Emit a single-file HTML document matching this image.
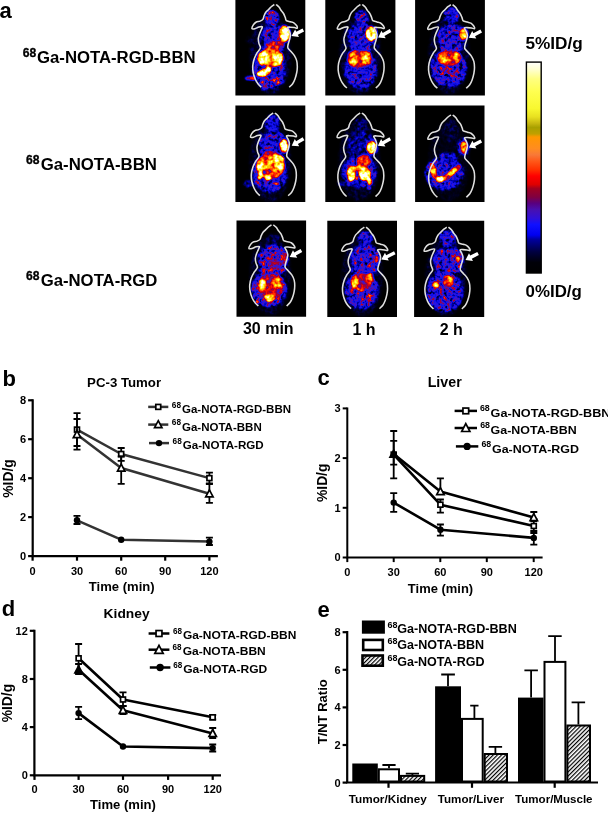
<!DOCTYPE html><html><head><meta charset="utf-8"><title>Figure</title><style>html,body{margin:0;padding:0;background:#fff;width:608px;height:813px;overflow:hidden}svg{display:block;font-family:"Liberation Sans",Arial,Helvetica,sans-serif;font-weight:bold}text{fill:#000}</style></head><body>
<svg width="608" height="813" viewBox="0 0 608 813">
<defs>
<filter id="cmap" x="0" y="0" width="1" height="1" color-interpolation-filters="sRGB"><feComponentTransfer><feFuncR type="table" tableValues="0.000 0.000 0.000 0.000 0.000 0.000 0.000 0.000 0.000 0.000 0.000 0.000 0.008 0.024 0.041 0.057 0.078 0.103 0.127 0.152 0.203 0.260 0.317 0.374 0.433 0.492 0.551 0.624 0.703 0.781 0.843 0.891 0.939 0.987 1.000 1.000 1.000 1.000 1.000 1.000 1.000 1.000 1.000 1.000 1.000 1.000 1.000 1.000 1.000 1.000 1.000 1.000 1.000 1.000 1.000 1.000 1.000 1.000 1.000 1.000 1.000 1.000 1.000 1.000 1.000"/><feFuncG type="table" tableValues="0.000 0.000 0.000 0.000 0.000 0.000 0.000 0.000 0.000 0.000 0.000 0.000 0.008 0.024 0.041 0.057 0.068 0.076 0.084 0.092 0.088 0.079 0.071 0.063 0.044 0.024 0.005 0.000 0.000 0.000 0.009 0.025 0.042 0.058 0.110 0.175 0.241 0.306 0.368 0.429 0.490 0.551 0.604 0.657 0.710 0.762 0.807 0.852 0.897 0.932 0.952 0.971 0.991 1.000 1.000 1.000 1.000 1.000 1.000 1.000 1.000 1.000 1.000 1.000 1.000"/><feFuncB type="table" tableValues="0.000 0.025 0.049 0.074 0.106 0.179 0.253 0.326 0.403 0.484 0.566 0.648 0.722 0.787 0.852 0.918 0.931 0.914 0.898 0.882 0.826 0.761 0.695 0.630 0.515 0.397 0.279 0.206 0.147 0.089 0.054 0.037 0.021 0.005 0.000 0.000 0.000 0.000 0.000 0.000 0.000 0.000 0.000 0.000 0.000 0.003 0.020 0.036 0.052 0.080 0.129 0.178 0.227 0.289 0.363 0.436 0.510 0.583 0.657 0.730 0.804 0.877 0.930 0.965 1.000"/><feFuncA type="linear" slope="0" intercept="1"/></feComponentTransfer></filter><filter id="ns0" x="0" y="0" width="1" height="1" color-interpolation-filters="sRGB"><feGaussianBlur in="SourceGraphic" stdDeviation="0.8" result="b"/><feTurbulence type="fractalNoise" baseFrequency="0.27" numOctaves="2" seed="3" result="n"/><feColorMatrix in="n" type="matrix" values="1 0 0 0 0  1 0 0 0 0  1 0 0 0 0  0 0 0 0 1" result="g"/><feComposite in="b" in2="g" operator="arithmetic" k1="2.7" k2="-0.35" k3="0" k4="0" result="m"/><feComponentTransfer in="m"><feFuncA type="linear" slope="0" intercept="1"/></feComponentTransfer></filter><filter id="nm0" x="0" y="0" width="1" height="1" color-interpolation-filters="sRGB"><feGaussianBlur in="SourceGraphic" stdDeviation="0.9" result="b"/><feTurbulence type="fractalNoise" baseFrequency="0.25" numOctaves="2" seed="53" result="n"/><feColorMatrix in="n" type="matrix" values="1 0 0 0 0  1 0 0 0 0  1 0 0 0 0  0 0 0 0 1" result="g"/><feComposite in="b" in2="g" operator="arithmetic" k1="1.1" k2="0.45" k3="0" k4="0" result="m"/><feComponentTransfer in="m"><feFuncA type="linear" slope="0" intercept="1"/></feComponentTransfer></filter><filter id="ns1" x="0" y="0" width="1" height="1" color-interpolation-filters="sRGB"><feGaussianBlur in="SourceGraphic" stdDeviation="0.8" result="b"/><feTurbulence type="fractalNoise" baseFrequency="0.27" numOctaves="2" seed="7" result="n"/><feColorMatrix in="n" type="matrix" values="1 0 0 0 0  1 0 0 0 0  1 0 0 0 0  0 0 0 0 1" result="g"/><feComposite in="b" in2="g" operator="arithmetic" k1="2.7" k2="-0.35" k3="0" k4="0" result="m"/><feComponentTransfer in="m"><feFuncA type="linear" slope="0" intercept="1"/></feComponentTransfer></filter><filter id="nm1" x="0" y="0" width="1" height="1" color-interpolation-filters="sRGB"><feGaussianBlur in="SourceGraphic" stdDeviation="0.9" result="b"/><feTurbulence type="fractalNoise" baseFrequency="0.25" numOctaves="2" seed="57" result="n"/><feColorMatrix in="n" type="matrix" values="1 0 0 0 0  1 0 0 0 0  1 0 0 0 0  0 0 0 0 1" result="g"/><feComposite in="b" in2="g" operator="arithmetic" k1="1.1" k2="0.45" k3="0" k4="0" result="m"/><feComponentTransfer in="m"><feFuncA type="linear" slope="0" intercept="1"/></feComponentTransfer></filter><filter id="ns2" x="0" y="0" width="1" height="1" color-interpolation-filters="sRGB"><feGaussianBlur in="SourceGraphic" stdDeviation="0.8" result="b"/><feTurbulence type="fractalNoise" baseFrequency="0.27" numOctaves="2" seed="11" result="n"/><feColorMatrix in="n" type="matrix" values="1 0 0 0 0  1 0 0 0 0  1 0 0 0 0  0 0 0 0 1" result="g"/><feComposite in="b" in2="g" operator="arithmetic" k1="2.7" k2="-0.35" k3="0" k4="0" result="m"/><feComponentTransfer in="m"><feFuncA type="linear" slope="0" intercept="1"/></feComponentTransfer></filter><filter id="nm2" x="0" y="0" width="1" height="1" color-interpolation-filters="sRGB"><feGaussianBlur in="SourceGraphic" stdDeviation="0.9" result="b"/><feTurbulence type="fractalNoise" baseFrequency="0.25" numOctaves="2" seed="61" result="n"/><feColorMatrix in="n" type="matrix" values="1 0 0 0 0  1 0 0 0 0  1 0 0 0 0  0 0 0 0 1" result="g"/><feComposite in="b" in2="g" operator="arithmetic" k1="1.1" k2="0.45" k3="0" k4="0" result="m"/><feComponentTransfer in="m"><feFuncA type="linear" slope="0" intercept="1"/></feComponentTransfer></filter><filter id="ns3" x="0" y="0" width="1" height="1" color-interpolation-filters="sRGB"><feGaussianBlur in="SourceGraphic" stdDeviation="0.8" result="b"/><feTurbulence type="fractalNoise" baseFrequency="0.27" numOctaves="2" seed="5" result="n"/><feColorMatrix in="n" type="matrix" values="1 0 0 0 0  1 0 0 0 0  1 0 0 0 0  0 0 0 0 1" result="g"/><feComposite in="b" in2="g" operator="arithmetic" k1="2.7" k2="-0.35" k3="0" k4="0" result="m"/><feComponentTransfer in="m"><feFuncA type="linear" slope="0" intercept="1"/></feComponentTransfer></filter><filter id="nm3" x="0" y="0" width="1" height="1" color-interpolation-filters="sRGB"><feGaussianBlur in="SourceGraphic" stdDeviation="0.9" result="b"/><feTurbulence type="fractalNoise" baseFrequency="0.25" numOctaves="2" seed="55" result="n"/><feColorMatrix in="n" type="matrix" values="1 0 0 0 0  1 0 0 0 0  1 0 0 0 0  0 0 0 0 1" result="g"/><feComposite in="b" in2="g" operator="arithmetic" k1="1.1" k2="0.45" k3="0" k4="0" result="m"/><feComponentTransfer in="m"><feFuncA type="linear" slope="0" intercept="1"/></feComponentTransfer></filter><filter id="ns4" x="0" y="0" width="1" height="1" color-interpolation-filters="sRGB"><feGaussianBlur in="SourceGraphic" stdDeviation="0.8" result="b"/><feTurbulence type="fractalNoise" baseFrequency="0.27" numOctaves="2" seed="9" result="n"/><feColorMatrix in="n" type="matrix" values="1 0 0 0 0  1 0 0 0 0  1 0 0 0 0  0 0 0 0 1" result="g"/><feComposite in="b" in2="g" operator="arithmetic" k1="2.7" k2="-0.35" k3="0" k4="0" result="m"/><feComponentTransfer in="m"><feFuncA type="linear" slope="0" intercept="1"/></feComponentTransfer></filter><filter id="nm4" x="0" y="0" width="1" height="1" color-interpolation-filters="sRGB"><feGaussianBlur in="SourceGraphic" stdDeviation="0.9" result="b"/><feTurbulence type="fractalNoise" baseFrequency="0.25" numOctaves="2" seed="59" result="n"/><feColorMatrix in="n" type="matrix" values="1 0 0 0 0  1 0 0 0 0  1 0 0 0 0  0 0 0 0 1" result="g"/><feComposite in="b" in2="g" operator="arithmetic" k1="1.1" k2="0.45" k3="0" k4="0" result="m"/><feComponentTransfer in="m"><feFuncA type="linear" slope="0" intercept="1"/></feComponentTransfer></filter><filter id="ns5" x="0" y="0" width="1" height="1" color-interpolation-filters="sRGB"><feGaussianBlur in="SourceGraphic" stdDeviation="0.8" result="b"/><feTurbulence type="fractalNoise" baseFrequency="0.27" numOctaves="2" seed="13" result="n"/><feColorMatrix in="n" type="matrix" values="1 0 0 0 0  1 0 0 0 0  1 0 0 0 0  0 0 0 0 1" result="g"/><feComposite in="b" in2="g" operator="arithmetic" k1="2.7" k2="-0.35" k3="0" k4="0" result="m"/><feComponentTransfer in="m"><feFuncA type="linear" slope="0" intercept="1"/></feComponentTransfer></filter><filter id="nm5" x="0" y="0" width="1" height="1" color-interpolation-filters="sRGB"><feGaussianBlur in="SourceGraphic" stdDeviation="0.9" result="b"/><feTurbulence type="fractalNoise" baseFrequency="0.25" numOctaves="2" seed="63" result="n"/><feColorMatrix in="n" type="matrix" values="1 0 0 0 0  1 0 0 0 0  1 0 0 0 0  0 0 0 0 1" result="g"/><feComposite in="b" in2="g" operator="arithmetic" k1="1.1" k2="0.45" k3="0" k4="0" result="m"/><feComponentTransfer in="m"><feFuncA type="linear" slope="0" intercept="1"/></feComponentTransfer></filter><filter id="ns6" x="0" y="0" width="1" height="1" color-interpolation-filters="sRGB"><feGaussianBlur in="SourceGraphic" stdDeviation="0.8" result="b"/><feTurbulence type="fractalNoise" baseFrequency="0.27" numOctaves="2" seed="17" result="n"/><feColorMatrix in="n" type="matrix" values="1 0 0 0 0  1 0 0 0 0  1 0 0 0 0  0 0 0 0 1" result="g"/><feComposite in="b" in2="g" operator="arithmetic" k1="2.7" k2="-0.35" k3="0" k4="0" result="m"/><feComponentTransfer in="m"><feFuncA type="linear" slope="0" intercept="1"/></feComponentTransfer></filter><filter id="nm6" x="0" y="0" width="1" height="1" color-interpolation-filters="sRGB"><feGaussianBlur in="SourceGraphic" stdDeviation="0.9" result="b"/><feTurbulence type="fractalNoise" baseFrequency="0.25" numOctaves="2" seed="67" result="n"/><feColorMatrix in="n" type="matrix" values="1 0 0 0 0  1 0 0 0 0  1 0 0 0 0  0 0 0 0 1" result="g"/><feComposite in="b" in2="g" operator="arithmetic" k1="1.1" k2="0.45" k3="0" k4="0" result="m"/><feComponentTransfer in="m"><feFuncA type="linear" slope="0" intercept="1"/></feComponentTransfer></filter><filter id="ns7" x="0" y="0" width="1" height="1" color-interpolation-filters="sRGB"><feGaussianBlur in="SourceGraphic" stdDeviation="0.8" result="b"/><feTurbulence type="fractalNoise" baseFrequency="0.27" numOctaves="2" seed="19" result="n"/><feColorMatrix in="n" type="matrix" values="1 0 0 0 0  1 0 0 0 0  1 0 0 0 0  0 0 0 0 1" result="g"/><feComposite in="b" in2="g" operator="arithmetic" k1="2.7" k2="-0.35" k3="0" k4="0" result="m"/><feComponentTransfer in="m"><feFuncA type="linear" slope="0" intercept="1"/></feComponentTransfer></filter><filter id="nm7" x="0" y="0" width="1" height="1" color-interpolation-filters="sRGB"><feGaussianBlur in="SourceGraphic" stdDeviation="0.9" result="b"/><feTurbulence type="fractalNoise" baseFrequency="0.25" numOctaves="2" seed="69" result="n"/><feColorMatrix in="n" type="matrix" values="1 0 0 0 0  1 0 0 0 0  1 0 0 0 0  0 0 0 0 1" result="g"/><feComposite in="b" in2="g" operator="arithmetic" k1="1.1" k2="0.45" k3="0" k4="0" result="m"/><feComponentTransfer in="m"><feFuncA type="linear" slope="0" intercept="1"/></feComponentTransfer></filter><filter id="ns8" x="0" y="0" width="1" height="1" color-interpolation-filters="sRGB"><feGaussianBlur in="SourceGraphic" stdDeviation="0.8" result="b"/><feTurbulence type="fractalNoise" baseFrequency="0.27" numOctaves="2" seed="23" result="n"/><feColorMatrix in="n" type="matrix" values="1 0 0 0 0  1 0 0 0 0  1 0 0 0 0  0 0 0 0 1" result="g"/><feComposite in="b" in2="g" operator="arithmetic" k1="2.7" k2="-0.35" k3="0" k4="0" result="m"/><feComponentTransfer in="m"><feFuncA type="linear" slope="0" intercept="1"/></feComponentTransfer></filter><filter id="nm8" x="0" y="0" width="1" height="1" color-interpolation-filters="sRGB"><feGaussianBlur in="SourceGraphic" stdDeviation="0.9" result="b"/><feTurbulence type="fractalNoise" baseFrequency="0.25" numOctaves="2" seed="73" result="n"/><feColorMatrix in="n" type="matrix" values="1 0 0 0 0  1 0 0 0 0  1 0 0 0 0  0 0 0 0 1" result="g"/><feComposite in="b" in2="g" operator="arithmetic" k1="1.1" k2="0.45" k3="0" k4="0" result="m"/><feComponentTransfer in="m"><feFuncA type="linear" slope="0" intercept="1"/></feComponentTransfer></filter>
<linearGradient id="cbar" x1="0" y1="0" x2="0" y2="1"><stop offset="0.000" stop-color="#ffffff"/><stop offset="0.040" stop-color="#ffffc8"/><stop offset="0.080" stop-color="#ffff80"/><stop offset="0.140" stop-color="#ffff50"/><stop offset="0.220" stop-color="#f8f830"/><stop offset="0.260" stop-color="#e8e020"/><stop offset="0.290" stop-color="#c8b810"/><stop offset="0.310" stop-color="#a8a000"/><stop offset="0.340" stop-color="#c0a000"/><stop offset="0.355" stop-color="#ff9800"/><stop offset="0.410" stop-color="#ff8c20"/><stop offset="0.440" stop-color="#f87838"/><stop offset="0.470" stop-color="#ff5818"/><stop offset="0.510" stop-color="#ff3000"/><stop offset="0.540" stop-color="#ff0000"/><stop offset="0.580" stop-color="#e00000"/><stop offset="0.600" stop-color="#a00020"/><stop offset="0.640" stop-color="#800040"/><stop offset="0.670" stop-color="#580080"/><stop offset="0.700" stop-color="#4810b0"/><stop offset="0.740" stop-color="#3010d8"/><stop offset="0.770" stop-color="#1010ff"/><stop offset="0.820" stop-color="#0000f0"/><stop offset="0.840" stop-color="#0000a0"/><stop offset="0.900" stop-color="#000040"/><stop offset="0.950" stop-color="#000008"/><stop offset="1.000" stop-color="#000000"/></linearGradient>
<pattern id="hatch" width="2.95" height="2.95" patternUnits="userSpaceOnUse" patternTransform="rotate(45)"><rect width="2.95" height="2.95" fill="#fff"/><rect width="1.2" height="2.95" fill="#000"/></pattern>
</defs>
<rect width="608" height="813" fill="#fff"/>
<text x="-0.6" y="18.0" font-size="22">a</text>
<text x="22.7" y="57.3" font-size="12" textLength="13.5" lengthAdjust="spacingAndGlyphs" stroke="#000" stroke-width="0.3">68</text><text x="37.0" y="62.9" font-size="16" textLength="158.6" lengthAdjust="spacingAndGlyphs">Ga-NOTA-RGD-BBN</text>
<text x="26.1" y="164.0" font-size="12" textLength="13.5" lengthAdjust="spacingAndGlyphs" stroke="#000" stroke-width="0.3">68</text><text x="40.7" y="169.6" font-size="16" textLength="116.3" lengthAdjust="spacingAndGlyphs">Ga-NOTA-BBN</text>
<text x="26.1" y="280.0" font-size="12" textLength="13.5" lengthAdjust="spacingAndGlyphs" stroke="#000" stroke-width="0.3">68</text><text x="40.7" y="285.6" font-size="16" textLength="116.7" lengthAdjust="spacingAndGlyphs">Ga-NOTA-RGD</text>
<text x="268.3" y="333.8" font-size="16" text-anchor="middle">30 min</text>
<text x="364.0" y="335.0" font-size="16" text-anchor="middle">1 h</text>
<text x="451.2" y="335.0" font-size="16" text-anchor="middle">2 h</text>
<text x="525.4" y="48.8" font-size="16" textLength="57.3" lengthAdjust="spacingAndGlyphs">5%ID/g</text>
<text x="525.6" y="297.2" font-size="16" textLength="56.2" lengthAdjust="spacingAndGlyphs">0%ID/g</text>
<rect x="526.4" y="62.1" width="14.8" height="210.9" fill="url(#cbar)" stroke="#000" stroke-width="1.4"/>
<svg x="235.4" y="0" width="69.9" height="95.4" viewBox="0 0 69.9 95.4" overflow="hidden">
<g filter="url(#cmap)">
<g filter="url(#ns0)"><rect x="-2" y="-2" width="73.9" height="99.4" fill="#000"/>
<ellipse cx="35" cy="55" rx="21" ry="40" fill="#141414"/>
<ellipse cx="36.5" cy="17.5" rx="7.5" ry="7.5" fill="#474747"/>
<ellipse cx="38" cy="37" rx="12.5" ry="12.5" fill="#424242"/>
<ellipse cx="34" cy="69" rx="16" ry="20" fill="#3f3f3f"/>
<ellipse cx="35" cy="16" rx="5" ry="6" fill="#5b5b5b"/>
<ellipse cx="40" cy="81" rx="8" ry="3.5" fill="#606060"/>
<ellipse cx="29.1" cy="82.5" rx="2" ry="2" fill="#727272"/>
<ellipse cx="28" cy="88.6" rx="1.5" ry="1.5" fill="#727272"/>
<ellipse cx="13" cy="40" rx="2" ry="3" fill="#191919"/>
<ellipse cx="37" cy="47.5" rx="10.625" ry="6" fill="#424242"/>
</g>
<g filter="url(#nm0)" style="mix-blend-mode:lighten"><rect x="-2" y="-2" width="73.9" height="99.4" fill="#000"/>
<ellipse cx="39.4" cy="45.2" rx="10" ry="5.3" fill="#777777"/>
<ellipse cx="35" cy="58" rx="13.5" ry="10" fill="#8e8e8e"/>
<ellipse cx="49.0" cy="33.8" rx="6.2" ry="8.8" fill="#999999"/>
<ellipse cx="49.2" cy="34.0" rx="5.0" ry="7.2" fill="#f9f9f9"/>
<ellipse cx="28.2" cy="58.6" rx="5.8" ry="7.5" fill="#d1d1d1"/>
<ellipse cx="41.5" cy="59.2" rx="6.2" ry="7" fill="#cccccc"/>
<ellipse cx="35.0" cy="59" rx="1.3" ry="5" fill="#7f7f7f"/>
<ellipse cx="28" cy="67.3" rx="2.2" ry="2" fill="#2d2d2d"/>
<ellipse cx="33" cy="68.5" rx="2.5" ry="2.5" fill="#cccccc"/>
<ellipse cx="28.5" cy="72.7" rx="7.8" ry="3.8" fill="#f2f2f2" transform="rotate(-20 28.5 72.7)"/>
<ellipse cx="15.5" cy="78.2" rx="5.5" ry="1.9" fill="#9e9e9e"/>
<ellipse cx="29" cy="57.5" rx="4" ry="5" fill="#f2f2f2"/>
<ellipse cx="42" cy="59.5" rx="4" ry="5" fill="#eaeaea"/>
</g></g>
<path d="M38.93 4.50C38.46 4.83 37.07 5.66 36.11 6.48C35.16 7.31 34.16 8.48 33.20 9.45C32.25 10.42 31.15 11.27 30.39 12.32C29.63 13.38 29.13 14.61 28.64 15.79C28.16 16.96 28.14 18.46 27.48 19.35C26.82 20.24 25.82 20.65 24.67 21.13C23.52 21.61 21.74 21.54 20.59 22.22C19.45 22.90 18.44 24.12 17.78 25.19C17.12 26.26 16.33 28.08 16.62 28.66C16.91 29.23 18.38 28.94 19.53 28.66C20.67 28.38 22.28 27.30 23.50 26.97C24.73 26.64 26.51 26.20 26.90 26.68C27.29 27.15 26.30 28.62 25.83 29.84C25.36 31.07 24.57 32.53 24.09 34.00C23.60 35.47 23.02 37.10 22.92 38.66C22.82 40.21 23.16 41.76 23.50 43.31C23.84 44.86 25.25 46.39 24.96 47.96C24.67 49.53 22.76 50.95 21.76 52.71C20.76 54.48 19.67 56.41 18.94 58.55C18.22 60.70 17.59 63.26 17.39 65.58C17.20 67.91 17.34 70.19 17.78 72.51C18.22 74.84 19.16 77.58 20.01 79.54C20.87 81.51 21.95 83.02 22.92 84.29C23.89 85.56 25.35 86.69 25.83 87.17" fill="none" stroke="#e0e0e0" stroke-width="1.55" stroke-linejoin="round"/>
<path d="M40.67 4.50C41.16 4.93 42.73 6.07 43.58 7.07C44.44 8.08 45.05 9.47 45.81 10.54C46.57 11.61 47.46 12.34 48.14 13.51C48.82 14.68 49.42 16.40 49.89 17.57C50.36 18.74 50.10 19.84 50.95 20.54C51.81 21.23 53.78 21.35 55.03 21.73C56.27 22.11 57.37 22.14 58.42 22.82C59.47 23.49 60.75 24.89 61.33 25.79C61.92 26.68 62.30 27.86 61.92 28.16C61.53 28.46 60.15 27.73 59.01 27.57C57.86 27.40 56.18 27.17 55.03 27.17C53.88 27.17 52.31 26.92 52.12 27.57C51.92 28.21 53.38 29.78 53.86 31.03C54.35 32.29 55.00 33.62 55.03 35.09C55.06 36.56 54.45 38.28 54.06 39.84C53.67 41.41 52.96 43.14 52.70 44.50C52.44 45.85 52.02 46.79 52.51 47.96C52.99 49.13 54.53 50.25 55.61 51.52C56.69 52.80 58.05 54.03 59.01 55.58C59.96 57.14 60.85 58.98 61.33 60.83C61.82 62.68 61.92 64.72 61.92 66.67C61.92 68.62 61.72 70.47 61.33 72.51C60.95 74.56 60.27 77.08 59.59 78.95C58.91 80.81 58.21 82.33 57.26 83.70C56.31 85.07 54.43 86.59 53.86 87.17" fill="none" stroke="#e0e0e0" stroke-width="1.55" stroke-linejoin="round"/>
<path d="M56.10 36.00L59.72 29.38L60.89 31.71L67.14 28.58L68.66 31.62L62.41 34.75L63.57 37.07Z" fill="#fff"/>
</svg>
<svg x="325.3" y="0" width="70.1" height="95.4" viewBox="0 0 70.1 95.4" overflow="hidden">
<g filter="url(#cmap)">
<g filter="url(#ns1)"><rect x="-2" y="-2" width="74.1" height="99.4" fill="#000"/>
<ellipse cx="35" cy="55" rx="21" ry="40" fill="#141414"/>
<ellipse cx="36.3" cy="17" rx="7" ry="7" fill="#424242"/>
<ellipse cx="36.3" cy="37" rx="13.5" ry="13.5" fill="#3f3f3f"/>
<ellipse cx="35.7" cy="69.4" rx="16" ry="19" fill="#3d3d3d"/>
<ellipse cx="37.5" cy="14" rx="2.5" ry="3" fill="#565656"/>
<ellipse cx="30" cy="75.5" rx="3.5" ry="1.2" fill="#666666"/>
<ellipse cx="35.3" cy="48.5" rx="11.475" ry="6" fill="#3f3f3f"/>
</g>
<g filter="url(#nm1)" style="mix-blend-mode:lighten"><rect x="-2" y="-2" width="74.1" height="99.4" fill="#000"/>
<ellipse cx="46.0" cy="34.2" rx="6.2" ry="8.3" fill="#8c8c8c"/>
<ellipse cx="46.0" cy="34.2" rx="4.8" ry="6.6" fill="#f9f9f9"/>
<ellipse cx="34.3" cy="58.8" rx="12.5" ry="9.5" fill="#777777"/>
<ellipse cx="28.2" cy="58.8" rx="6.5" ry="9.2" fill="#7f7f7f"/>
<ellipse cx="40.4" cy="58.6" rx="6.8" ry="9" fill="#7f7f7f"/>
<ellipse cx="28.0" cy="59.5" rx="3.8" ry="6.2" fill="#b2b2b2"/>
<ellipse cx="40.6" cy="59.0" rx="4.0" ry="6.2" fill="#b2b2b2"/>
<ellipse cx="27.5" cy="60" rx="1.6" ry="2.5" fill="#cccccc"/>
<ellipse cx="40.8" cy="58.5" rx="1.6" ry="3" fill="#cccccc"/>
</g></g>
<path d="M35.10 4.50C34.62 4.83 33.18 5.67 32.20 6.50C31.22 7.33 30.18 8.52 29.20 9.50C28.22 10.48 27.08 11.33 26.30 12.40C25.52 13.47 25.00 14.72 24.50 15.90C24.00 17.08 23.98 18.60 23.30 19.50C22.62 20.40 21.58 20.82 20.40 21.30C19.22 21.78 17.38 21.72 16.20 22.40C15.02 23.08 13.98 24.32 13.30 25.40C12.62 26.48 11.80 28.32 12.10 28.90C12.40 29.48 13.92 29.18 15.10 28.90C16.28 28.62 17.93 27.53 19.20 27.20C20.47 26.87 22.30 26.42 22.70 26.90C23.10 27.38 22.08 28.87 21.60 30.10C21.12 31.33 20.30 32.82 19.80 34.30C19.30 35.78 18.70 37.43 18.60 39.00C18.50 40.57 18.85 42.13 19.20 43.70C19.55 45.27 21.00 46.82 20.70 48.40C20.40 49.98 18.43 51.42 17.40 53.20C16.37 54.98 15.25 56.93 14.50 59.10C13.75 61.27 13.10 63.85 12.90 66.20C12.70 68.55 12.85 70.85 13.30 73.20C13.75 75.55 14.72 78.32 15.60 80.30C16.48 82.28 17.60 83.82 18.60 85.10C19.60 86.38 21.10 87.52 21.60 88.00" fill="none" stroke="#e0e0e0" stroke-width="1.55" stroke-linejoin="round"/>
<path d="M36.90 4.50C37.40 4.93 39.02 6.08 39.90 7.10C40.78 8.12 41.42 9.52 42.20 10.60C42.98 11.68 43.90 12.42 44.60 13.60C45.30 14.78 45.92 16.52 46.40 17.70C46.88 18.88 46.62 20.00 47.50 20.70C48.38 21.40 50.42 21.52 51.70 21.90C52.98 22.28 54.12 22.32 55.20 23.00C56.28 23.68 57.60 25.10 58.20 26.00C58.80 26.90 59.20 28.10 58.80 28.40C58.40 28.70 56.98 27.97 55.80 27.80C54.62 27.63 52.88 27.40 51.70 27.40C50.52 27.40 48.90 27.15 48.70 27.80C48.50 28.45 50.00 30.03 50.50 31.30C51.00 32.57 51.67 33.92 51.70 35.40C51.73 36.88 51.10 38.62 50.70 40.20C50.30 41.78 49.57 43.53 49.30 44.90C49.03 46.27 48.60 47.22 49.10 48.40C49.60 49.58 51.18 50.72 52.30 52.00C53.42 53.28 54.82 54.53 55.80 56.10C56.78 57.67 57.70 59.53 58.20 61.40C58.70 63.27 58.80 65.33 58.80 67.30C58.80 69.27 58.60 71.13 58.20 73.20C57.80 75.27 57.10 77.82 56.40 79.70C55.70 81.58 54.98 83.12 54.00 84.50C53.02 85.88 51.08 87.42 50.50 88.00" fill="none" stroke="#e0e0e0" stroke-width="1.55" stroke-linejoin="round"/>
<path d="M52.90 37.60L56.14 30.79L57.44 33.04L64.46 29.02L66.14 31.98L59.13 35.99L60.42 38.25Z" fill="#fff"/>
</svg>
<svg x="415.1" y="0" width="69.8" height="95.4" viewBox="0 0 69.8 95.4" overflow="hidden">
<g filter="url(#cmap)">
<g filter="url(#ns2)"><rect x="-2" y="-2" width="73.8" height="99.4" fill="#000"/>
<ellipse cx="34" cy="55" rx="21" ry="40" fill="#111111"/>
<ellipse cx="36.5" cy="15" rx="8" ry="8" fill="#383838"/>
<ellipse cx="36.6" cy="36.6" rx="14" ry="13" fill="#3f3f3f"/>
<ellipse cx="33.6" cy="68.5" rx="18" ry="19" fill="#3f3f3f"/>
<ellipse cx="30.7" cy="71.5" rx="9" ry="5" fill="#5b5b5b"/>
<ellipse cx="40" cy="75" rx="5" ry="4" fill="#545454"/>
<ellipse cx="35.6" cy="47.6" rx="11.9" ry="6" fill="#3f3f3f"/>
</g>
<g filter="url(#nm2)" style="mix-blend-mode:lighten"><rect x="-2" y="-2" width="73.8" height="99.4" fill="#000"/>
<ellipse cx="34" cy="58" rx="13" ry="8.5" fill="#777777"/>
<ellipse cx="48.3" cy="34.3" rx="4.6" ry="7" fill="#7f7f7f"/>
<ellipse cx="48.3" cy="34.3" rx="3.3" ry="4.9" fill="#cccccc"/>
<ellipse cx="28.5" cy="59" rx="5.5" ry="5" fill="#999999"/>
<ellipse cx="29.5" cy="59.5" rx="2.6" ry="2.6" fill="#c6c6c6"/>
<ellipse cx="41.5" cy="57" rx="4.2" ry="4.8" fill="#999999"/>
<ellipse cx="40.5" cy="56" rx="1.8" ry="2.2" fill="#b7b7b7"/>
<ellipse cx="36" cy="60" rx="2" ry="2" fill="#999999"/>
</g></g>
<path d="M35.70 4.70C35.22 5.03 33.78 5.87 32.80 6.70C31.82 7.53 30.78 8.72 29.80 9.70C28.82 10.68 27.68 11.53 26.90 12.60C26.12 13.67 25.60 14.92 25.10 16.10C24.60 17.28 24.58 18.80 23.90 19.70C23.22 20.60 22.18 21.02 21.00 21.50C19.82 21.98 17.98 21.92 16.80 22.60C15.62 23.28 14.58 24.52 13.90 25.60C13.22 26.68 12.40 28.52 12.70 29.10C13.00 29.68 14.52 29.38 15.70 29.10C16.88 28.82 18.53 27.73 19.80 27.40C21.07 27.07 22.90 26.62 23.30 27.10C23.70 27.58 22.68 29.07 22.20 30.30C21.72 31.53 20.90 33.02 20.40 34.50C19.90 35.98 19.30 37.63 19.20 39.20C19.10 40.77 19.45 42.33 19.80 43.90C20.15 45.47 21.60 47.02 21.30 48.60C21.00 50.18 19.03 51.62 18.00 53.40C16.97 55.18 15.85 57.13 15.10 59.30C14.35 61.47 13.70 64.05 13.50 66.40C13.30 68.75 13.45 71.05 13.90 73.40C14.35 75.75 15.32 78.52 16.20 80.50C17.08 82.48 18.20 84.02 19.20 85.30C20.20 86.58 21.70 87.72 22.20 88.20" fill="none" stroke="#e0e0e0" stroke-width="1.55" stroke-linejoin="round"/>
<path d="M37.50 4.70C38.00 5.13 39.62 6.28 40.50 7.30C41.38 8.32 42.02 9.72 42.80 10.80C43.58 11.88 44.50 12.62 45.20 13.80C45.90 14.98 46.52 16.72 47.00 17.90C47.48 19.08 47.22 20.20 48.10 20.90C48.98 21.60 51.02 21.72 52.30 22.10C53.58 22.48 54.72 22.52 55.80 23.20C56.88 23.88 58.20 25.30 58.80 26.20C59.40 27.10 59.80 28.30 59.40 28.60C59.00 28.90 57.58 28.17 56.40 28.00C55.22 27.83 53.48 27.60 52.30 27.60C51.12 27.60 49.50 27.35 49.30 28.00C49.10 28.65 50.60 30.23 51.10 31.50C51.60 32.77 52.27 34.12 52.30 35.60C52.33 37.08 51.70 38.82 51.30 40.40C50.90 41.98 50.17 43.73 49.90 45.10C49.63 46.47 49.20 47.42 49.70 48.60C50.20 49.78 51.78 50.92 52.90 52.20C54.02 53.48 55.42 54.73 56.40 56.30C57.38 57.87 58.30 59.73 58.80 61.60C59.30 63.47 59.40 65.53 59.40 67.50C59.40 69.47 59.20 71.33 58.80 73.40C58.40 75.47 57.70 78.02 57.00 79.90C56.30 81.78 55.58 83.32 54.60 84.70C53.62 86.08 51.68 87.62 51.10 88.20" fill="none" stroke="#e0e0e0" stroke-width="1.55" stroke-linejoin="round"/>
<path d="M53.70 37.80L57.07 31.05L58.32 33.33L65.28 29.51L66.92 32.49L59.95 36.31L61.20 38.59Z" fill="#fff"/>
</svg>
<svg x="235.4" y="105.5" width="69.9" height="96.4" viewBox="0 0 69.9 96.4" overflow="hidden">
<g filter="url(#cmap)">
<g filter="url(#ns3)"><rect x="-2" y="-2" width="73.9" height="100.4" fill="#000"/>
<ellipse cx="35" cy="57" rx="21" ry="40" fill="#111111"/>
<ellipse cx="36.8" cy="17.3" rx="7.7" ry="8.3" fill="#3a3a3a"/>
<ellipse cx="38" cy="37.3" rx="14.8" ry="11.8" fill="#3d3d3d"/>
<ellipse cx="34.5" cy="68" rx="17" ry="19" fill="#3d3d3d"/>
<ellipse cx="13" cy="78.5" rx="5" ry="4" fill="#282828"/>
<ellipse cx="20.9" cy="76.3" rx="2" ry="2" fill="#8c8c8c"/>
<ellipse cx="37" cy="47.099999999999994" rx="12.58" ry="6" fill="#3d3d3d"/>
</g>
<g filter="url(#nm3)" style="mix-blend-mode:lighten"><rect x="-2" y="-2" width="73.9" height="100.4" fill="#000"/>
<ellipse cx="35" cy="61" rx="15" ry="13" fill="#8c8c8c"/>
<ellipse cx="35" cy="48" rx="8" ry="3.5" fill="#727272"/>
<ellipse cx="48.6" cy="40.5" rx="5.0" ry="7.2" fill="#999999"/>
<ellipse cx="48.6" cy="40.5" rx="3.9" ry="6.0" fill="#f9f9f9"/>
<ellipse cx="41" cy="53.8" rx="8.3" ry="4.7" fill="#d1d1d1"/>
<ellipse cx="25.8" cy="62.7" rx="4.4" ry="7.7" fill="#e0e0e0"/>
<ellipse cx="43.9" cy="60.9" rx="5.3" ry="4.7" fill="#cccccc"/>
<ellipse cx="33.5" cy="60" rx="3.5" ry="4" fill="#9e9e9e"/>
<ellipse cx="28.6" cy="66.3" rx="2.4" ry="2.4" fill="#333333"/>
<ellipse cx="24.2" cy="71.9" rx="2.4" ry="2.4" fill="#f7f7f7"/>
<ellipse cx="32.1" cy="72.5" rx="3" ry="2.6" fill="#f7f7f7"/>
<ellipse cx="41.5" cy="78" rx="3" ry="2.5" fill="#727272"/>
<ellipse cx="41.5" cy="78" rx="1.8" ry="1.8" fill="#bfbfbf"/>
</g></g>
<path d="M37.72 7.50C37.24 7.83 35.84 8.66 34.88 9.48C33.91 10.30 32.90 11.48 31.94 12.45C30.97 13.42 29.86 14.27 29.09 15.32C28.33 16.38 27.82 17.61 27.33 18.79C26.84 19.96 26.82 21.46 26.15 22.35C25.48 23.24 24.47 23.65 23.31 24.13C22.15 24.61 20.36 24.54 19.20 25.22C18.04 25.90 17.02 27.12 16.35 28.19C15.68 29.26 14.88 31.08 15.18 31.66C15.47 32.23 16.96 31.94 18.12 31.66C19.28 31.38 20.89 30.30 22.14 29.97C23.38 29.64 25.17 29.20 25.57 29.68C25.96 30.15 24.96 31.62 24.49 32.84C24.01 34.06 23.21 35.53 22.72 37.00C22.23 38.47 21.65 40.10 21.55 41.66C21.45 43.21 21.79 44.76 22.14 46.31C22.48 47.86 23.90 49.39 23.61 50.96C23.31 52.53 21.38 53.95 20.37 55.71C19.36 57.48 18.27 59.41 17.53 61.55C16.80 63.70 16.16 66.26 15.96 68.58C15.77 70.91 15.91 73.19 16.35 75.51C16.80 77.84 17.74 80.58 18.61 82.54C19.47 84.51 20.57 86.02 21.55 87.29C22.53 88.56 24.00 89.69 24.49 90.17" fill="none" stroke="#e0e0e0" stroke-width="1.55" stroke-linejoin="round"/>
<path d="M39.48 7.50C39.97 7.93 41.56 9.07 42.42 10.07C43.29 11.08 43.91 12.47 44.68 13.54C45.44 14.61 46.34 15.34 47.03 16.51C47.71 17.68 48.32 19.40 48.79 20.57C49.27 21.74 49.00 22.84 49.87 23.54C50.74 24.23 52.73 24.35 53.99 24.73C55.24 25.11 56.35 25.14 57.42 25.82C58.48 26.49 59.77 27.89 60.36 28.79C60.94 29.68 61.34 30.86 60.94 31.16C60.55 31.46 59.16 30.73 58.00 30.57C56.84 30.40 55.15 30.17 53.99 30.17C52.83 30.17 51.24 29.92 51.05 30.57C50.85 31.21 52.32 32.78 52.81 34.03C53.30 35.29 53.95 36.62 53.99 38.09C54.02 39.56 53.40 41.28 53.01 42.84C52.61 44.41 51.90 46.14 51.63 47.50C51.37 48.85 50.95 49.79 51.44 50.96C51.93 52.13 53.48 53.25 54.57 54.52C55.67 55.80 57.04 57.03 58.00 58.58C58.97 60.14 59.87 61.98 60.36 63.83C60.85 65.68 60.94 67.72 60.94 69.67C60.94 71.62 60.75 73.47 60.36 75.51C59.96 77.56 59.28 80.08 58.59 81.95C57.91 83.81 57.20 85.33 56.24 86.70C55.28 88.07 53.38 89.59 52.81 90.17" fill="none" stroke="#e0e0e0" stroke-width="1.55" stroke-linejoin="round"/>
<path d="M56.30 40.30L59.40 33.42L60.74 35.65L67.22 31.74L68.98 34.66L62.49 38.56L63.83 40.79Z" fill="#fff"/>
</svg>
<svg x="325.3" y="105.5" width="70.1" height="96.4" viewBox="0 0 70.1 96.4" overflow="hidden">
<g filter="url(#cmap)">
<g filter="url(#ns4)"><rect x="-2" y="-2" width="74.1" height="100.4" fill="#000"/>
<ellipse cx="34" cy="56" rx="21" ry="40" fill="#111111"/>
<ellipse cx="36" cy="19" rx="7.5" ry="7.5" fill="#1e1e1e"/>
<ellipse cx="35.7" cy="38" rx="13.5" ry="12" fill="#262626"/>
<ellipse cx="34" cy="66" rx="17.5" ry="16" fill="#3a3a3a"/>
<ellipse cx="16" cy="78" rx="4" ry="3" fill="#282828"/>
<ellipse cx="46" cy="42" rx="7" ry="9" fill="#383838"/>
<ellipse cx="31.5" cy="70" rx="2" ry="5" fill="#606060"/>
<ellipse cx="34.7" cy="48" rx="11.475" ry="6" fill="#262626"/>
</g>
<g filter="url(#nm4)" style="mix-blend-mode:lighten"><rect x="-2" y="-2" width="74.1" height="100.4" fill="#000"/>
<ellipse cx="38.7" cy="55.6" rx="8.3" ry="6.5" fill="#7f7f7f"/>
<ellipse cx="35.1" cy="53.8" rx="2" ry="2" fill="#9e9e9e"/>
<ellipse cx="39.9" cy="58.6" rx="2" ry="2" fill="#999999"/>
<ellipse cx="29.8" cy="62.7" rx="8.8" ry="3" fill="#999999"/>
<ellipse cx="46.2" cy="41.9" rx="5.4" ry="7.1" fill="#8c8c8c"/>
<ellipse cx="46.2" cy="41.9" rx="4.2" ry="5.9" fill="#f9f9f9"/>
<ellipse cx="39.3" cy="68.6" rx="6.5" ry="6.5" fill="#f2f2f2"/>
<ellipse cx="25.7" cy="69.2" rx="4.7" ry="7" fill="#d8d8d8"/>
<ellipse cx="44.6" cy="76.3" rx="2.4" ry="3.5" fill="#f2f2f2"/>
<ellipse cx="43.5" cy="82.5" rx="2.4" ry="1.8" fill="#7f7f7f"/>
<ellipse cx="23.3" cy="79" rx="2" ry="2" fill="#727272"/>
</g></g>
<path d="M34.80 7.50C34.32 7.83 32.88 8.67 31.90 9.50C30.92 10.33 29.88 11.52 28.90 12.50C27.92 13.48 26.78 14.33 26.00 15.40C25.22 16.47 24.70 17.72 24.20 18.90C23.70 20.08 23.68 21.60 23.00 22.50C22.32 23.40 21.28 23.82 20.10 24.30C18.92 24.78 17.08 24.72 15.90 25.40C14.72 26.08 13.68 27.32 13.00 28.40C12.32 29.48 11.50 31.32 11.80 31.90C12.10 32.48 13.62 32.18 14.80 31.90C15.98 31.62 17.63 30.53 18.90 30.20C20.17 29.87 22.00 29.42 22.40 29.90C22.80 30.38 21.78 31.87 21.30 33.10C20.82 34.33 20.00 35.82 19.50 37.30C19.00 38.78 18.40 40.43 18.30 42.00C18.20 43.57 18.55 45.13 18.90 46.70C19.25 48.27 20.70 49.82 20.40 51.40C20.10 52.98 18.13 54.42 17.10 56.20C16.07 57.98 14.95 59.93 14.20 62.10C13.45 64.27 12.80 66.85 12.60 69.20C12.40 71.55 12.55 73.85 13.00 76.20C13.45 78.55 14.42 81.32 15.30 83.30C16.18 85.28 17.30 86.82 18.30 88.10C19.30 89.38 20.80 90.52 21.30 91.00" fill="none" stroke="#e0e0e0" stroke-width="1.55" stroke-linejoin="round"/>
<path d="M36.60 7.50C37.10 7.93 38.72 9.08 39.60 10.10C40.48 11.12 41.12 12.52 41.90 13.60C42.68 14.68 43.60 15.42 44.30 16.60C45.00 17.78 45.62 19.52 46.10 20.70C46.58 21.88 46.32 23.00 47.20 23.70C48.08 24.40 50.12 24.52 51.40 24.90C52.68 25.28 53.82 25.32 54.90 26.00C55.98 26.68 57.30 28.10 57.90 29.00C58.50 29.90 58.90 31.10 58.50 31.40C58.10 31.70 56.68 30.97 55.50 30.80C54.32 30.63 52.58 30.40 51.40 30.40C50.22 30.40 48.60 30.15 48.40 30.80C48.20 31.45 49.70 33.03 50.20 34.30C50.70 35.57 51.37 36.92 51.40 38.40C51.43 39.88 50.80 41.62 50.40 43.20C50.00 44.78 49.27 46.53 49.00 47.90C48.73 49.27 48.30 50.22 48.80 51.40C49.30 52.58 50.88 53.72 52.00 55.00C53.12 56.28 54.52 57.53 55.50 59.10C56.48 60.67 57.40 62.53 57.90 64.40C58.40 66.27 58.50 68.33 58.50 70.30C58.50 72.27 58.30 74.13 57.90 76.20C57.50 78.27 56.80 80.82 56.10 82.70C55.40 84.58 54.68 86.12 53.70 87.50C52.72 88.88 50.78 90.42 50.20 91.00" fill="none" stroke="#e0e0e0" stroke-width="1.55" stroke-linejoin="round"/>
<path d="M52.60 40.30L55.84 33.49L57.14 35.74L64.16 31.72L65.84 34.68L58.83 38.69L60.12 40.95Z" fill="#fff"/>
</svg>
<svg x="415.1" y="105.5" width="69.4" height="96.4" viewBox="0 0 69.4 96.4" overflow="hidden">
<g filter="url(#cmap)">
<g filter="url(#ns5)"><rect x="-2" y="-2" width="73.4" height="100.4" fill="#000"/>
<ellipse cx="34" cy="56" rx="21" ry="40" fill="#0c0c0c"/>
<ellipse cx="36" cy="25" rx="8" ry="12" fill="#141414"/>
<ellipse cx="48.5" cy="41.5" rx="6.5" ry="9" fill="#3d3d3d"/>
<ellipse cx="29" cy="68" rx="19.5" ry="16.5" fill="#3d3d3d"/>
<ellipse cx="33" cy="52" rx="10" ry="5" fill="#333333"/>
</g>
<g filter="url(#nm5)" style="mix-blend-mode:lighten"><rect x="-2" y="-2" width="73.4" height="100.4" fill="#000"/>
<ellipse cx="48.8" cy="42" rx="4.4" ry="7.2" fill="#848484"/>
<ellipse cx="48.6" cy="41.5" rx="2.6" ry="4.2" fill="#c1c1c1"/>
<path d="M16.5 60.0L18.5 69.0L24.0 74.5L31.0 72.5L37.5 66.5L43.0 61.5" fill="none" stroke="#7f7f7f" stroke-width="6.5" stroke-linecap="round" stroke-linejoin="round"/>
<ellipse cx="18.8" cy="64.5" rx="2.8" ry="4.5" fill="#cccccc"/>
<ellipse cx="25.8" cy="73.5" rx="4" ry="3" fill="#eaeaea" transform="rotate(-20 25.8 73.5)"/>
<ellipse cx="37.5" cy="66.2" rx="5.2" ry="2.6" fill="#cccccc" transform="rotate(-35 37.5 66.2)"/>
</g></g>
<path d="M35.80 9.50C35.32 9.83 33.88 10.65 32.90 11.47C31.92 12.29 30.88 13.46 29.90 14.43C28.92 15.39 27.78 16.23 27.00 17.28C26.22 18.33 25.70 19.56 25.20 20.73C24.70 21.89 24.68 23.39 24.00 24.27C23.32 25.16 22.28 25.57 21.10 26.05C19.92 26.52 18.08 26.46 16.90 27.13C15.72 27.80 14.68 29.02 14.00 30.09C13.32 31.15 12.50 32.96 12.80 33.53C13.10 34.11 14.62 33.81 15.80 33.53C16.98 33.25 18.63 32.19 19.90 31.86C21.17 31.53 23.00 31.09 23.40 31.56C23.80 32.04 22.78 33.50 22.30 34.72C21.82 35.93 21.00 37.39 20.50 38.85C20.00 40.31 19.40 41.94 19.30 43.48C19.20 45.03 19.55 46.57 19.90 48.11C20.25 49.66 21.70 51.18 21.40 52.74C21.10 54.30 19.13 55.71 18.10 57.47C17.07 59.23 15.95 61.15 15.20 63.28C14.45 65.42 13.80 67.96 13.60 70.27C13.40 72.59 13.55 74.85 14.00 77.17C14.45 79.48 15.42 82.21 16.30 84.16C17.18 86.12 18.30 87.63 19.30 88.89C20.30 90.16 21.80 91.27 22.30 91.75" fill="none" stroke="#e0e0e0" stroke-width="1.55" stroke-linejoin="round"/>
<path d="M37.60 9.50C38.10 9.93 39.72 11.06 40.60 12.06C41.48 13.06 42.12 14.44 42.90 15.51C43.68 16.58 44.60 17.30 45.30 18.46C46.00 19.63 46.62 21.34 47.10 22.50C47.58 23.67 47.32 24.77 48.20 25.46C49.08 26.15 51.12 26.26 52.40 26.64C53.68 27.02 54.82 27.05 55.90 27.72C56.98 28.40 58.30 29.79 58.90 30.68C59.50 31.56 59.90 32.75 59.50 33.04C59.10 33.34 57.68 32.61 56.50 32.45C55.32 32.29 53.58 32.06 52.40 32.06C51.22 32.06 49.60 31.81 49.40 32.45C49.20 33.09 50.70 34.65 51.20 35.90C51.70 37.15 52.37 38.48 52.40 39.94C52.43 41.40 51.80 43.10 51.40 44.66C51.00 46.22 50.27 47.95 50.00 49.29C49.73 50.64 49.30 51.58 49.80 52.74C50.30 53.91 51.88 55.02 53.00 56.29C54.12 57.55 55.52 58.78 56.50 60.33C57.48 61.87 58.40 63.71 58.90 65.55C59.40 67.39 59.50 69.42 59.50 71.36C59.50 73.30 59.30 75.13 58.90 77.17C58.50 79.21 57.80 81.72 57.10 83.57C56.40 85.43 55.68 86.94 54.70 88.30C53.72 89.66 51.78 91.17 51.20 91.75" fill="none" stroke="#e0e0e0" stroke-width="1.55" stroke-linejoin="round"/>
<path d="M53.80 42.00L57.29 35.31L58.50 37.62L65.41 33.99L66.99 37.01L60.08 40.63L61.29 42.93Z" fill="#fff"/>
</svg>
<svg x="236.5" y="220.6" width="69.6" height="96.2" viewBox="0 0 69.6 96.2" overflow="hidden">
<g filter="url(#cmap)">
<g filter="url(#ns6)"><rect x="-2" y="-2" width="73.6" height="100.2" fill="#000"/>
<ellipse cx="34" cy="55" rx="21" ry="40" fill="#111111"/>
<ellipse cx="37" cy="18" rx="7" ry="5" fill="#191919"/>
<ellipse cx="36.8" cy="37.8" rx="15" ry="13.3" fill="#4f4f4f"/>
<ellipse cx="32.5" cy="68.5" rx="17.3" ry="17.3" fill="#4f4f4f"/>
<ellipse cx="21.2" cy="80.5" rx="2" ry="2" fill="#999999"/>
<ellipse cx="35.8" cy="49.099999999999994" rx="12.75" ry="6" fill="#4f4f4f"/>
</g>
<g filter="url(#nm6)" style="mix-blend-mode:lighten"><rect x="-2" y="-2" width="73.6" height="100.2" fill="#000"/>
<ellipse cx="34.1" cy="66.2" rx="14" ry="14" fill="#6b6b6b"/>
<ellipse cx="38" cy="44" rx="8" ry="6" fill="#666666"/>
<ellipse cx="48.6" cy="38.3" rx="2.7" ry="7.2" fill="#848484"/>
<ellipse cx="25.8" cy="63.8" rx="3.8" ry="6" fill="#c6c6c6"/>
<ellipse cx="40.7" cy="62.6" rx="5" ry="5" fill="#adadad"/>
<ellipse cx="32.9" cy="77.5" rx="4.6" ry="4.6" fill="#cccccc"/>
<ellipse cx="32.3" cy="78.5" rx="2.6" ry="2" fill="#f2f2f2"/>
</g></g>
<path d="M35.02 4.20C34.54 4.52 33.14 5.33 32.18 6.14C31.21 6.95 30.20 8.10 29.24 9.06C28.27 10.02 27.16 10.84 26.39 11.88C25.63 12.92 25.12 14.13 24.63 15.28C24.14 16.43 24.12 17.91 23.45 18.78C22.78 19.65 21.77 20.06 20.61 20.53C19.45 21.00 17.66 20.93 16.50 21.60C15.34 22.26 14.32 23.46 13.65 24.51C12.98 25.57 12.18 27.35 12.48 27.92C12.77 28.48 14.26 28.19 15.42 27.92C16.58 27.64 18.19 26.59 19.44 26.26C20.68 25.94 22.47 25.50 22.87 25.97C23.26 26.44 22.26 27.88 21.79 29.08C21.31 30.28 20.51 31.72 20.02 33.17C19.53 34.61 18.95 36.21 18.85 37.73C18.75 39.26 19.09 40.78 19.44 42.30C19.78 43.83 21.20 45.33 20.91 46.87C20.61 48.41 18.68 49.80 17.67 51.54C16.66 53.27 15.56 55.17 14.83 57.27C14.09 59.38 13.46 61.89 13.26 64.17C13.07 66.46 13.21 68.69 13.65 70.98C14.10 73.26 15.04 75.95 15.91 77.88C16.77 79.81 17.87 81.30 18.85 82.54C19.83 83.79 21.30 84.89 21.79 85.36" fill="none" stroke="#e0e0e0" stroke-width="1.55" stroke-linejoin="round"/>
<path d="M36.78 4.20C37.27 4.62 38.86 5.74 39.72 6.73C40.59 7.72 41.21 9.08 41.98 10.13C42.74 11.18 43.64 11.90 44.33 13.05C45.01 14.20 45.62 15.88 46.09 17.03C46.57 18.18 46.30 19.27 47.17 19.95C48.04 20.63 50.03 20.74 51.29 21.11C52.54 21.49 53.65 21.52 54.72 22.18C55.78 22.85 57.07 24.22 57.66 25.10C58.24 25.97 58.64 27.14 58.24 27.43C57.85 27.72 56.46 27.01 55.30 26.85C54.14 26.69 52.45 26.46 51.29 26.46C50.13 26.46 48.54 26.22 48.35 26.85C48.15 27.48 49.62 29.02 50.11 30.25C50.60 31.48 51.25 32.79 51.29 34.23C51.32 35.68 50.70 37.36 50.31 38.90C49.91 40.44 49.20 42.14 48.93 43.47C48.67 44.80 48.25 45.72 48.74 46.87C49.23 48.02 50.78 49.12 51.87 50.37C52.97 51.62 54.34 52.83 55.30 54.36C56.27 55.88 57.17 57.69 57.66 59.51C58.15 61.32 58.24 63.33 58.24 65.24C58.24 67.15 58.05 68.97 57.66 70.98C57.26 72.99 56.58 75.46 55.89 77.29C55.21 79.13 54.50 80.62 53.54 81.96C52.58 83.30 50.68 84.79 50.11 85.36" fill="none" stroke="#e0e0e0" stroke-width="1.55" stroke-linejoin="round"/>
<path d="M53.20 36.40L56.49 29.61L57.76 31.87L64.06 28.32L65.74 31.28L59.44 34.83L60.71 37.10Z" fill="#fff"/>
</svg>
<svg x="327.3" y="220.7" width="69.7" height="96.3" viewBox="0 0 69.7 96.3" overflow="hidden">
<g filter="url(#cmap)">
<g filter="url(#ns7)"><rect x="-2" y="-2" width="73.7" height="100.3" fill="#000"/>
<ellipse cx="35" cy="56" rx="21" ry="40" fill="#111111"/>
<ellipse cx="38" cy="17" rx="8" ry="6.6" fill="#3d3d3d"/>
<ellipse cx="38" cy="37.3" rx="15" ry="13.7" fill="#474747"/>
<ellipse cx="34.5" cy="69.8" rx="16.7" ry="18.5" fill="#474747"/>
<ellipse cx="42" cy="77" rx="3" ry="3.5" fill="#606060"/>
<ellipse cx="37" cy="49.0" rx="12.75" ry="6" fill="#474747"/>
</g>
<g filter="url(#nm7)" style="mix-blend-mode:lighten"><rect x="-2" y="-2" width="73.7" height="100.3" fill="#000"/>
<ellipse cx="34.3" cy="61.4" rx="12" ry="10" fill="#666666"/>
<ellipse cx="49.2" cy="38.8" rx="2.6" ry="4.2" fill="#848484"/>
<ellipse cx="27.4" cy="61.4" rx="3.6" ry="6.5" fill="#a8a8a8"/>
<ellipse cx="27.8" cy="61" rx="2.2" ry="3.5" fill="#c6c6c6"/>
<ellipse cx="42.7" cy="57.6" rx="3.8" ry="6" fill="#9e9e9e"/>
<ellipse cx="42.5" cy="57" rx="2" ry="2.8" fill="#b7b7b7"/>
<ellipse cx="33.7" cy="69.1" rx="4" ry="1.6" fill="#b7b7b7"/>
<ellipse cx="24.5" cy="69.9" rx="2.2" ry="2.2" fill="#999999"/>
</g></g>
<path d="M37.02 6.50C36.54 6.83 35.14 7.64 34.18 8.45C33.21 9.26 32.20 10.42 31.24 11.38C30.27 12.33 29.16 13.16 28.39 14.20C27.63 15.24 27.12 16.46 26.63 17.62C26.14 18.77 26.12 20.25 25.45 21.12C24.78 22.00 23.77 22.41 22.61 22.88C21.45 23.35 19.66 23.29 18.50 23.95C17.34 24.62 16.32 25.82 15.65 26.88C14.98 27.93 14.18 29.72 14.48 30.29C14.77 30.86 16.26 30.57 17.42 30.29C18.58 30.01 20.19 28.96 21.44 28.63C22.68 28.31 24.47 27.87 24.87 28.34C25.26 28.81 24.26 30.26 23.79 31.46C23.31 32.66 22.51 34.11 22.02 35.55C21.53 37.00 20.95 38.61 20.85 40.14C20.75 41.66 21.09 43.19 21.44 44.72C21.78 46.25 23.20 47.76 22.91 49.30C22.61 50.85 20.68 52.24 19.67 53.98C18.66 55.72 17.56 57.62 16.83 59.73C16.09 61.85 15.46 64.37 15.26 66.66C15.07 68.95 15.21 71.19 15.65 73.48C16.09 75.77 17.04 78.47 17.91 80.41C18.77 82.34 19.87 83.83 20.85 85.08C21.83 86.34 23.30 87.44 23.79 87.91" fill="none" stroke="#e0e0e0" stroke-width="1.55" stroke-linejoin="round"/>
<path d="M38.78 6.50C39.27 6.92 40.86 8.04 41.72 9.04C42.59 10.03 43.21 11.39 43.98 12.45C44.74 13.50 45.64 14.22 46.33 15.37C47.01 16.53 47.62 18.22 48.09 19.37C48.57 20.52 48.30 21.61 49.17 22.29C50.04 22.98 52.03 23.09 53.29 23.46C54.54 23.84 55.65 23.87 56.72 24.54C57.78 25.20 59.07 26.58 59.66 27.46C60.24 28.34 60.64 29.51 60.24 29.80C59.85 30.09 58.46 29.38 57.30 29.22C56.14 29.05 54.45 28.83 53.29 28.83C52.13 28.83 50.54 28.58 50.35 29.22C50.15 29.85 51.62 31.39 52.11 32.63C52.60 33.86 53.25 35.18 53.29 36.63C53.32 38.07 52.70 39.76 52.31 41.31C51.91 42.85 51.20 44.56 50.93 45.89C50.67 47.22 50.25 48.15 50.74 49.30C51.23 50.46 52.78 51.56 53.87 52.81C54.97 54.06 56.34 55.28 57.30 56.81C58.27 58.34 59.17 60.16 59.66 61.98C60.15 63.80 60.24 65.81 60.24 67.73C60.24 69.65 60.05 71.47 59.66 73.48C59.26 75.50 58.58 77.98 57.89 79.82C57.21 81.66 56.50 83.15 55.54 84.50C54.58 85.85 52.68 87.34 52.11 87.91" fill="none" stroke="#e0e0e0" stroke-width="1.55" stroke-linejoin="round"/>
<path d="M54.00 38.70L57.68 32.11L58.82 34.45L66.75 30.57L68.25 33.63L60.32 37.50L61.46 39.84Z" fill="#fff"/>
</svg>
<svg x="414.1" y="220.7" width="70.1" height="96.3" viewBox="0 0 70.1 96.3" overflow="hidden">
<g filter="url(#cmap)">
<g filter="url(#ns8)"><rect x="-2" y="-2" width="74.1" height="100.3" fill="#000"/>
<ellipse cx="32" cy="56" rx="21" ry="40" fill="#111111"/>
<ellipse cx="33.5" cy="17.3" rx="9" ry="8" fill="#3d3d3d"/>
<ellipse cx="34.5" cy="38.5" rx="15" ry="13" fill="#444444"/>
<ellipse cx="30.6" cy="71.6" rx="18.5" ry="19.7" fill="#444444"/>
<ellipse cx="30.5" cy="75.7" rx="1.3" ry="1.3" fill="#7f7f7f"/>
<ellipse cx="44" cy="40" rx="5" ry="8" fill="#565656"/>
<ellipse cx="33.5" cy="49.5" rx="12.75" ry="6" fill="#444444"/>
</g>
<g filter="url(#nm8)" style="mix-blend-mode:lighten"><rect x="-2" y="-2" width="74.1" height="100.3" fill="#000"/>
<ellipse cx="34.1" cy="60.8" rx="6.5" ry="7" fill="#727272"/>
<ellipse cx="43.9" cy="38.5" rx="3.2" ry="4.6" fill="#727272"/>
<ellipse cx="43.9" cy="38.5" rx="2.2" ry="3" fill="#999999"/>
<ellipse cx="21.8" cy="63.8" rx="4.6" ry="4.4" fill="#727272"/>
<ellipse cx="21.8" cy="63.8" rx="3.4" ry="3.2" fill="#bcbcbc"/>
<ellipse cx="33.5" cy="56" rx="3.2" ry="1.7" fill="#b7b7b7"/>
<ellipse cx="35.9" cy="60.2" rx="2.3" ry="3.3" fill="#c1c1c1"/>
<ellipse cx="37.1" cy="63.2" rx="1.8" ry="1.8" fill="#a8a8a8"/>
<ellipse cx="30.5" cy="18.4" rx="1.3" ry="1.3" fill="#b2b2b2"/>
</g></g>
<path d="M32.62 6.50C32.14 6.83 30.74 7.64 29.78 8.46C28.81 9.27 27.80 10.43 26.84 11.39C25.87 12.35 24.76 13.18 23.99 14.23C23.23 15.27 22.72 16.49 22.23 17.65C21.74 18.81 21.72 20.29 21.05 21.17C20.38 22.05 19.37 22.46 18.21 22.93C17.05 23.40 15.26 23.34 14.10 24.01C12.94 24.67 11.92 25.88 11.25 26.94C10.58 28.00 9.78 29.79 10.08 30.36C10.37 30.93 11.86 30.64 13.02 30.36C14.18 30.09 15.79 29.03 17.04 28.70C18.28 28.37 20.07 27.93 20.47 28.41C20.86 28.88 19.86 30.33 19.39 31.54C18.91 32.74 18.11 34.19 17.62 35.64C17.13 37.10 16.55 38.71 16.45 40.24C16.35 41.77 16.69 43.31 17.04 44.84C17.38 46.37 18.80 47.89 18.51 49.43C18.21 50.98 16.28 52.38 15.27 54.13C14.26 55.87 13.16 57.78 12.43 59.90C11.70 62.02 11.06 64.54 10.86 66.84C10.67 69.14 10.81 71.39 11.25 73.69C11.70 75.99 12.64 78.69 13.51 80.63C14.37 82.57 15.47 84.07 16.45 85.33C17.43 86.58 18.90 87.69 19.39 88.16" fill="none" stroke="#e0e0e0" stroke-width="1.55" stroke-linejoin="round"/>
<path d="M34.38 6.50C34.87 6.92 36.46 8.05 37.32 9.04C38.19 10.04 38.81 11.41 39.58 12.47C40.34 13.53 41.24 14.24 41.93 15.40C42.61 16.56 43.22 18.25 43.69 19.41C44.17 20.57 43.90 21.66 44.77 22.34C45.64 23.03 47.63 23.14 48.89 23.52C50.14 23.89 51.25 23.92 52.32 24.59C53.38 25.26 54.67 26.65 55.26 27.53C55.84 28.41 56.24 29.58 55.84 29.87C55.45 30.17 54.06 29.45 52.90 29.29C51.74 29.12 50.05 28.90 48.89 28.90C47.73 28.90 46.14 28.65 45.95 29.29C45.75 29.92 47.22 31.47 47.71 32.71C48.20 33.95 48.85 35.27 48.89 36.72C48.92 38.17 48.30 39.87 47.91 41.41C47.51 42.96 46.80 44.67 46.53 46.01C46.27 47.35 45.85 48.28 46.34 49.43C46.83 50.59 48.38 51.70 49.47 52.95C50.57 54.21 51.94 55.43 52.90 56.96C53.87 58.50 54.77 60.32 55.26 62.15C55.75 63.97 55.84 65.99 55.84 67.92C55.84 69.84 55.65 71.67 55.26 73.69C54.86 75.71 54.18 78.20 53.49 80.05C52.81 81.89 52.10 83.39 51.14 84.74C50.18 86.09 48.28 87.59 47.71 88.16" fill="none" stroke="#e0e0e0" stroke-width="1.55" stroke-linejoin="round"/>
<path d="M51.40 39.30L54.90 32.61L56.10 34.92L63.21 31.19L64.79 34.21L57.68 37.93L58.89 40.23Z" fill="#fff"/>
</svg>
<text x="2.4" y="385.6" font-size="22">b</text>
<text x="124.1" y="387.0" font-size="13" text-anchor="middle" textLength="74.0" lengthAdjust="spacingAndGlyphs">PC-3 Tumor</text>
<text transform="translate(12.8,478.5) rotate(-90)" x="0" y="0" font-size="13.8" text-anchor="middle">%ID/g</text>
<text x="121.7" y="591.3" font-size="13" text-anchor="middle" textLength="65.8" lengthAdjust="spacingAndGlyphs">Time (min)</text>
<g stroke="#000" stroke-width="2.2" fill="none" stroke-linecap="butt"><path d="M32.7 399.2V556.1H217.9"/><path d="M28.1 556.1H32.7"/><path d="M28.1 517.1H32.7"/><path d="M28.1 478.2H32.7"/><path d="M28.1 439.2H32.7"/><path d="M28.1 400.3H32.7"/><path d="M32.6 556.1V560.7"/><path d="M77.0 556.1V560.7"/><path d="M121.2 556.1V560.7"/><path d="M165.2 556.1V560.7"/><path d="M209.4 556.1V560.7"/></g><text x="26.1" y="560.0" font-size="11" text-anchor="end">0</text><text x="26.1" y="521.0" font-size="11" text-anchor="end">2</text><text x="26.1" y="482.1" font-size="11" text-anchor="end">4</text><text x="26.1" y="443.1" font-size="11" text-anchor="end">6</text><text x="26.1" y="404.2" font-size="11" text-anchor="end">8</text><text x="32.6" y="574.6" font-size="11" text-anchor="middle">0</text><text x="77.0" y="574.6" font-size="11" text-anchor="middle">30</text><text x="121.2" y="574.6" font-size="11" text-anchor="middle">60</text><text x="165.2" y="574.6" font-size="11" text-anchor="middle">90</text><text x="209.4" y="574.6" font-size="11" text-anchor="middle">120</text>
<path d="M77.0 429.6L121.2 454.0L209.4 478.1" stroke="#333333" stroke-width="2.5" fill="none" stroke-linejoin="round"/><path d="M77.0 413.2V446.0M73.5 413.2h7.0M73.5 446.0h7.0" stroke="#000" stroke-width="1.8" fill="none"/><path d="M121.2 448.0V460.8M117.7 448.0h7.0M117.7 460.8h7.0" stroke="#000" stroke-width="1.8" fill="none"/><path d="M209.4 472.6V483.4M205.9 472.6h7.0M205.9 483.4h7.0" stroke="#000" stroke-width="1.8" fill="none"/><rect x="74.55" y="427.15" width="4.90" height="4.90" fill="#fff" stroke="#000" stroke-width="1.7"/><rect x="118.75" y="451.55" width="4.90" height="4.90" fill="#fff" stroke="#000" stroke-width="1.7"/><rect x="206.95" y="475.65" width="4.90" height="4.90" fill="#fff" stroke="#000" stroke-width="1.7"/>
<path d="M77.0 434.5L121.2 468.0L209.4 493.7" stroke="#333333" stroke-width="2.5" fill="none" stroke-linejoin="round"/><path d="M77.0 419.0V449.7M73.5 419.0h7.0M73.5 449.7h7.0" stroke="#000" stroke-width="1.8" fill="none"/><path d="M121.2 456.5V483.8M117.7 456.5h7.0M117.7 483.8h7.0" stroke="#000" stroke-width="1.8" fill="none"/><path d="M209.4 484.0V502.8M205.9 484.0h7.0M205.9 502.8h7.0" stroke="#000" stroke-width="1.8" fill="none"/><path d="M77.00 430.60L80.70 437.60H73.30Z" fill="#fff" stroke="#000" stroke-width="1.7" stroke-linejoin="miter"/><path d="M121.20 464.10L124.90 471.10H117.50Z" fill="#fff" stroke="#000" stroke-width="1.7" stroke-linejoin="miter"/><path d="M209.40 489.80L213.10 496.80H205.70Z" fill="#fff" stroke="#000" stroke-width="1.7" stroke-linejoin="miter"/>
<path d="M77.0 520.3L121.2 539.7L209.4 541.6" stroke="#333333" stroke-width="2.5" fill="none" stroke-linejoin="round"/><path d="M77.0 515.9V524.0M73.5 515.9h7.0M73.5 524.0h7.0" stroke="#000" stroke-width="1.8" fill="none"/><path d="M209.4 537.7V545.0M205.9 537.7h7.0M205.9 545.0h7.0" stroke="#000" stroke-width="1.8" fill="none"/><circle cx="77.00" cy="520.30" r="3.20" fill="#000"/><circle cx="121.20" cy="539.70" r="3.20" fill="#000"/><circle cx="209.40" cy="541.60" r="3.20" fill="#000"/>
<path d="M148.2 406.9H168.3" stroke="#333333" stroke-width="2.5"/><rect x="155.80" y="404.45" width="4.90" height="4.90" fill="#fff" stroke="#000" stroke-width="1.7"/><text x="171.8" y="407.7" font-size="8.4" textLength="9.2" lengthAdjust="spacingAndGlyphs">68</text><text x="182.0" y="413.1" font-size="11.4" textLength="109.0" lengthAdjust="spacingAndGlyphs" font-weight="bold">Ga-NOTA-RGD-BBN</text><path d="M148.2 424.6H168.3" stroke="#333333" stroke-width="2.5"/><path d="M158.25 420.70L161.95 427.70H154.55Z" fill="#fff" stroke="#000" stroke-width="1.7" stroke-linejoin="miter"/><text x="171.8" y="425.2" font-size="8.4" textLength="9.2" lengthAdjust="spacingAndGlyphs">68</text><text x="182.0" y="430.6" font-size="11.4" textLength="79.7" lengthAdjust="spacingAndGlyphs" font-weight="bold">Ga-NOTA-BBN</text><path d="M149.0 443.1H169.0" stroke="#333333" stroke-width="2.5"/><circle cx="159.00" cy="443.10" r="3.20" fill="#000"/><text x="172.6" y="443.5" font-size="8.4" textLength="9.2" lengthAdjust="spacingAndGlyphs">68</text><text x="182.8" y="448.9" font-size="11.4" textLength="80.9" lengthAdjust="spacingAndGlyphs" font-weight="bold">Ga-NOTA-RGD</text>
<text x="317.6" y="385.1" font-size="22">c</text>
<text x="444.7" y="386.9" font-size="14.5" text-anchor="middle" textLength="34.0" lengthAdjust="spacingAndGlyphs">Liver</text>
<text transform="translate(326.5,482.8) rotate(-90)" x="0" y="0" font-size="13.8" text-anchor="middle">%ID/g</text>
<text x="440.5" y="593.0" font-size="13" text-anchor="middle" textLength="65.3" lengthAdjust="spacingAndGlyphs">Time (min)</text>
<g stroke="#000" stroke-width="2.0" fill="none" stroke-linecap="butt"><path d="M347.3 407.4V557.5H542.6"/><path d="M342.7 557.5H347.3"/><path d="M342.7 507.8H347.3"/><path d="M342.7 458.1H347.3"/><path d="M342.7 408.4H347.3"/><path d="M347.3 557.5V562.1"/><path d="M393.7 557.5V562.1"/><path d="M440.3 557.5V562.1"/><path d="M486.8 557.5V562.1"/><path d="M533.7 557.5V562.1"/></g><text x="340.7" y="561.4" font-size="11" text-anchor="end">0</text><text x="340.7" y="511.7" font-size="11" text-anchor="end">1</text><text x="340.7" y="462.0" font-size="11" text-anchor="end">2</text><text x="340.7" y="412.3" font-size="11" text-anchor="end">3</text><text x="347.3" y="576.0" font-size="11" text-anchor="middle">0</text><text x="393.7" y="576.0" font-size="11" text-anchor="middle">30</text><text x="440.3" y="576.0" font-size="11" text-anchor="middle">60</text><text x="486.8" y="576.0" font-size="11" text-anchor="middle">90</text><text x="533.7" y="576.0" font-size="11" text-anchor="middle">120</text>
<path d="M393.7 454.6L440.4 504.7L533.8 526.0" stroke="#000" stroke-width="2.6" fill="none" stroke-linejoin="round"/><path d="M393.7 440.9V464.6M390.2 440.9h7.0M390.2 464.6h7.0" stroke="#000" stroke-width="1.8" fill="none"/><path d="M440.4 499.5V512.6M436.9 499.5h7.0M436.9 512.6h7.0" stroke="#000" stroke-width="1.8" fill="none"/><path d="M533.8 519.0V533.0M530.3 519.0h7.0M530.3 533.0h7.0" stroke="#000" stroke-width="1.8" fill="none"/><rect x="391.25" y="452.15" width="4.90" height="4.90" fill="#000" stroke="#000" stroke-width="1.7"/><rect x="437.95" y="502.25" width="4.90" height="4.90" fill="#fff" stroke="#000" stroke-width="1.7"/><rect x="531.35" y="523.55" width="4.90" height="4.90" fill="#fff" stroke="#000" stroke-width="1.7"/>
<path d="M393.7 454.0L440.4 491.6L533.8 517.5" stroke="#000" stroke-width="2.6" fill="none" stroke-linejoin="round"/><path d="M393.7 431.0V478.4M390.2 431.0h7.0M390.2 478.4h7.0" stroke="#000" stroke-width="1.8" fill="none"/><path d="M440.4 478.4V493.5M436.9 478.4h7.0M436.9 493.5h7.0" stroke="#000" stroke-width="1.8" fill="none"/><path d="M533.8 512.0V521.0M530.3 512.0h7.0M530.3 521.0h7.0" stroke="#000" stroke-width="1.8" fill="none"/><path d="M393.70 450.10L397.40 457.10H390.00Z" fill="#000" stroke="#000" stroke-width="1.7" stroke-linejoin="miter"/><path d="M440.40 487.70L444.10 494.70H436.70Z" fill="#fff" stroke="#000" stroke-width="1.7" stroke-linejoin="miter"/><path d="M533.80 513.60L537.50 520.60H530.10Z" fill="#fff" stroke="#000" stroke-width="1.7" stroke-linejoin="miter"/>
<path d="M393.7 502.6L440.4 529.7L533.8 537.9" stroke="#000" stroke-width="2.6" fill="none" stroke-linejoin="round"/><path d="M393.7 493.1V511.8M390.2 493.1h7.0M390.2 511.8h7.0" stroke="#000" stroke-width="1.8" fill="none"/><path d="M440.4 524.5V535.7M436.9 524.5h7.0M436.9 535.7h7.0" stroke="#000" stroke-width="1.8" fill="none"/><path d="M533.8 531.0V544.7M530.3 531.0h7.0M530.3 544.7h7.0" stroke="#000" stroke-width="1.8" fill="none"/><circle cx="393.70" cy="502.60" r="3.20" fill="#000"/><circle cx="440.40" cy="529.70" r="3.20" fill="#000"/><circle cx="533.80" cy="537.90" r="3.20" fill="#000"/>
<path d="M454.6 410.9H477.0" stroke="#000" stroke-width="2.5"/><rect x="462.95" y="408.05" width="5.70" height="5.70" fill="#fff" stroke="#000" stroke-width="1.7"/><text x="479.9" y="410.9" font-size="8.6" textLength="9.8" lengthAdjust="spacingAndGlyphs">68</text><text x="490.6" y="416.6" font-size="11.4" textLength="119.9" lengthAdjust="spacingAndGlyphs" font-weight="bold">Ga-NOTA-RGD-BBN</text><path d="M454.6 428.0H477.0" stroke="#000" stroke-width="2.5"/><path d="M465.80 423.70L469.90 431.50H461.70Z" fill="#fff" stroke="#000" stroke-width="1.7" stroke-linejoin="miter"/><text x="480.2" y="428.0" font-size="8.6" textLength="9.8" lengthAdjust="spacingAndGlyphs">68</text><text x="490.6" y="433.7" font-size="11.4" textLength="86.1" lengthAdjust="spacingAndGlyphs" font-weight="bold">Ga-NOTA-BBN</text><path d="M455.9 446.4H478.3" stroke="#000" stroke-width="2.5"/><circle cx="467.10" cy="446.40" r="3.60" fill="#000"/><text x="481.4" y="446.9" font-size="8.6" textLength="9.8" lengthAdjust="spacingAndGlyphs">68</text><text x="492.0" y="452.6" font-size="11.4" textLength="87.0" lengthAdjust="spacingAndGlyphs" font-weight="bold">Ga-NOTA-RGD</text>
<text x="1.8" y="616.0" font-size="22">d</text>
<text x="126.6" y="617.6" font-size="12.5" text-anchor="middle" textLength="46.0" lengthAdjust="spacingAndGlyphs">Kidney</text>
<text transform="translate(12.4,703.1) rotate(-90)" x="0" y="0" font-size="13.8" text-anchor="middle">%ID/g</text>
<text x="123.0" y="809.4" font-size="13" text-anchor="middle" textLength="65.8" lengthAdjust="spacingAndGlyphs">Time (min)</text>
<g stroke="#000" stroke-width="2.2" fill="none" stroke-linecap="butt"><path d="M34.4 629.7V775.3H221.0"/><path d="M29.8 775.3H34.4"/><path d="M29.8 727.1H34.4"/><path d="M29.8 679.0H34.4"/><path d="M29.8 630.8H34.4"/><path d="M34.5 775.3V779.9"/><path d="M78.6 775.3V779.9"/><path d="M123.0 775.3V779.9"/><path d="M168.1 775.3V779.9"/><path d="M212.7 775.3V779.9"/></g><text x="27.8" y="779.2" font-size="11" text-anchor="end">0</text><text x="27.8" y="731.0" font-size="11" text-anchor="end">4</text><text x="27.8" y="682.9" font-size="11" text-anchor="end">8</text><text x="27.8" y="634.7" font-size="11" text-anchor="end">12</text><text x="34.5" y="792.8" font-size="11" text-anchor="middle">0</text><text x="78.6" y="792.8" font-size="11" text-anchor="middle">30</text><text x="123.0" y="792.8" font-size="11" text-anchor="middle">60</text><text x="168.1" y="792.8" font-size="11" text-anchor="middle">90</text><text x="212.7" y="792.8" font-size="11" text-anchor="middle">120</text>
<path d="M78.6 658.3L123.0 699.5L212.7 717.3" stroke="#000" stroke-width="2.6" fill="none" stroke-linejoin="round"/><path d="M78.6 644.0V672.0M75.1 644.0h7.0M75.1 672.0h7.0" stroke="#000" stroke-width="1.8" fill="none"/><path d="M123.0 692.4V706.0M119.5 692.4h7.0M119.5 706.0h7.0" stroke="#000" stroke-width="1.8" fill="none"/><path d="M212.7 715.0V719.5M209.2 715.0h7.0M209.2 719.5h7.0" stroke="#000" stroke-width="1.8" fill="none"/><rect x="76.15" y="655.85" width="4.90" height="4.90" fill="#fff" stroke="#000" stroke-width="1.7"/><rect x="120.55" y="697.05" width="4.90" height="4.90" fill="#fff" stroke="#000" stroke-width="1.7"/><rect x="210.25" y="714.85" width="4.90" height="4.90" fill="#fff" stroke="#000" stroke-width="1.7"/>
<path d="M78.6 669.8L123.0 710.2L212.7 733.4" stroke="#000" stroke-width="2.6" fill="none" stroke-linejoin="round"/><path d="M78.6 664.0V674.0M75.1 664.0h7.0M75.1 674.0h7.0" stroke="#000" stroke-width="1.8" fill="none"/><path d="M123.0 706.0V714.0M119.5 706.0h7.0M119.5 714.0h7.0" stroke="#000" stroke-width="1.8" fill="none"/><path d="M212.7 728.0V738.0M209.2 728.0h7.0M209.2 738.0h7.0" stroke="#000" stroke-width="1.8" fill="none"/><path d="M78.60 665.90L82.30 672.90H74.90Z" fill="#000" stroke="#000" stroke-width="1.7" stroke-linejoin="miter"/><path d="M123.00 706.30L126.70 713.30H119.30Z" fill="#fff" stroke="#000" stroke-width="1.7" stroke-linejoin="miter"/><path d="M212.70 729.50L216.40 736.50H209.00Z" fill="#fff" stroke="#000" stroke-width="1.7" stroke-linejoin="miter"/>
<path d="M78.6 713.1L123.0 746.5L212.7 748.1" stroke="#000" stroke-width="2.6" fill="none" stroke-linejoin="round"/><path d="M78.6 706.8V719.2M75.1 706.8h7.0M75.1 719.2h7.0" stroke="#000" stroke-width="1.8" fill="none"/><path d="M212.7 744.5V751.5M209.2 744.5h7.0M209.2 751.5h7.0" stroke="#000" stroke-width="1.8" fill="none"/><circle cx="78.60" cy="713.10" r="3.20" fill="#000"/><circle cx="123.00" cy="746.50" r="3.20" fill="#000"/><circle cx="212.70" cy="748.10" r="3.20" fill="#000"/>
<path d="M148.6 633.5H169.4" stroke="#000" stroke-width="2.5"/><rect x="156.05" y="630.55" width="5.90" height="5.90" fill="#fff" stroke="#000" stroke-width="1.7"/><text x="173.0" y="633.6" font-size="8.4" textLength="9.0" lengthAdjust="spacingAndGlyphs">68</text><text x="182.9" y="639.0" font-size="11.4" textLength="113.5" lengthAdjust="spacingAndGlyphs" font-weight="bold">Ga-NOTA-RGD-BBN</text><path d="M148.6 649.7H169.4" stroke="#000" stroke-width="2.5"/><path d="M159.00 645.30L163.20 653.30H154.80Z" fill="#fff" stroke="#000" stroke-width="1.7" stroke-linejoin="miter"/><text x="172.6" y="649.8" font-size="8.4" textLength="9.0" lengthAdjust="spacingAndGlyphs">68</text><text x="182.7" y="655.2" font-size="11.4" textLength="83.1" lengthAdjust="spacingAndGlyphs" font-weight="bold">Ga-NOTA-BBN</text><path d="M149.8 667.5H170.4" stroke="#000" stroke-width="2.5"/><circle cx="160.10" cy="667.50" r="3.70" fill="#000"/><text x="173.2" y="667.5" font-size="8.4" textLength="9.0" lengthAdjust="spacingAndGlyphs">68</text><text x="183.2" y="672.9" font-size="11.4" textLength="84.0" lengthAdjust="spacingAndGlyphs" font-weight="bold">Ga-NOTA-RGD</text>
<text x="317.4" y="616.5" font-size="22">e</text>
<text transform="translate(326.8,711.8) rotate(-90)" x="0" y="0" font-size="13" text-anchor="middle">T/NT Ratio</text>
<g stroke="#000" stroke-width="2.2" fill="none"><path d="M347.2 631.1V782.5H598"/><path d="M342.6 782.6H347.2"/><path d="M342.6 745.0H347.2"/><path d="M342.6 707.4H347.2"/><path d="M342.6 669.8H347.2"/><path d="M342.6 632.2H347.2"/><path d="M388.5 782.5V787.8"/><path d="M472.0 782.5V787.8"/><path d="M554.7 782.5V787.8"/></g>
<text x="340.6" y="786.5" font-size="11" text-anchor="end">0</text>
<text x="340.6" y="748.9" font-size="11" text-anchor="end">2</text>
<text x="340.6" y="711.3" font-size="11" text-anchor="end">4</text>
<text x="340.6" y="673.7" font-size="11" text-anchor="end">6</text>
<text x="340.6" y="636.1" font-size="11" text-anchor="end">8</text>
<rect x="353.3" y="764.5" width="23.5" height="17.0" fill="#000" stroke="#000" stroke-width="2"/>
<path d="M389.0 768.3V765.0M382.4 765.0H395.6" stroke="#000" stroke-width="1.8"/>
<rect x="378.8" y="769.3" width="20.2" height="12.2" fill="#fff" stroke="#000" stroke-width="2"/>
<path d="M412.4 774.9V773.7M405.8 773.7H419.0" stroke="#000" stroke-width="1.8"/>
<rect x="401.0" y="775.9" width="23.2" height="5.6" fill="url(#hatch)" stroke="#000" stroke-width="2"/>
<path d="M448.0 686.3V674.5M441.2 674.5H454.9" stroke="#000" stroke-width="1.8"/>
<rect x="436.1" y="687.3" width="23.9" height="94.2" fill="#000" stroke="#000" stroke-width="2"/>
<path d="M474.4 717.9V705.7M470.2 705.7H478.5" stroke="#000" stroke-width="1.8"/>
<rect x="462.0" y="718.9" width="20.7" height="62.6" fill="#fff" stroke="#000" stroke-width="2"/>
<path d="M495.4 753.0V746.9M488.7 746.9H502.1" stroke="#000" stroke-width="1.8"/>
<rect x="484.7" y="754.0" width="22.3" height="27.5" fill="url(#hatch)" stroke="#000" stroke-width="2"/>
<path d="M531.1 697.6V670.3M524.4 670.3H537.9" stroke="#000" stroke-width="1.8"/>
<rect x="519.0" y="698.6" width="23.5" height="82.9" fill="#000" stroke="#000" stroke-width="2"/>
<path d="M555.0 660.9V636.2M548.2 636.2H561.7" stroke="#000" stroke-width="1.8"/>
<rect x="544.5" y="661.9" width="20.9" height="119.6" fill="#fff" stroke="#000" stroke-width="2"/>
<path d="M578.4 724.5V702.3M571.6 702.3H585.1" stroke="#000" stroke-width="1.8"/>
<rect x="567.4" y="725.5" width="22.6" height="56.0" fill="url(#hatch)" stroke="#000" stroke-width="2"/>
<text x="387.8" y="802.5" font-size="11.6" text-anchor="middle" textLength="78.0" lengthAdjust="spacingAndGlyphs">Tumor/Kidney</text>
<text x="470.9" y="802.5" font-size="11.6" text-anchor="middle" textLength="66.2" lengthAdjust="spacingAndGlyphs">Tumor/Liver</text>
<text x="553.8" y="802.5" font-size="11.6" text-anchor="middle" textLength="77.5" lengthAdjust="spacingAndGlyphs">Tumor/Muscle</text>
<rect x="362.9" y="621.5" width="21" height="11.2" fill="#000" stroke="#000" stroke-width="2"/>
<rect x="363.2" y="639.9" width="19.6" height="10.1" fill="#fff" stroke="#000" stroke-width="2.6"/>
<rect x="362.5" y="655.5" width="20.3" height="10.2" fill="url(#hatch)" stroke="#000" stroke-width="2.6"/>
<text x="387.4" y="627.8" font-size="9" textLength="10" lengthAdjust="spacingAndGlyphs">68</text>
<text x="397.2" y="632.8" font-size="12.2" textLength="119.6" lengthAdjust="spacingAndGlyphs">Ga-NOTA-RGD-BBN</text>
<text x="387.4" y="644.0" font-size="9" textLength="10" lengthAdjust="spacingAndGlyphs">68</text>
<text x="397.2" y="649.0" font-size="12.2" textLength="87.0" lengthAdjust="spacingAndGlyphs">Ga-NOTA-BBN</text>
<text x="387.4" y="660.8" font-size="9" textLength="10" lengthAdjust="spacingAndGlyphs">68</text>
<text x="397.2" y="665.8" font-size="12.2" textLength="87.4" lengthAdjust="spacingAndGlyphs">Ga-NOTA-RGD</text>
</svg></body></html>
